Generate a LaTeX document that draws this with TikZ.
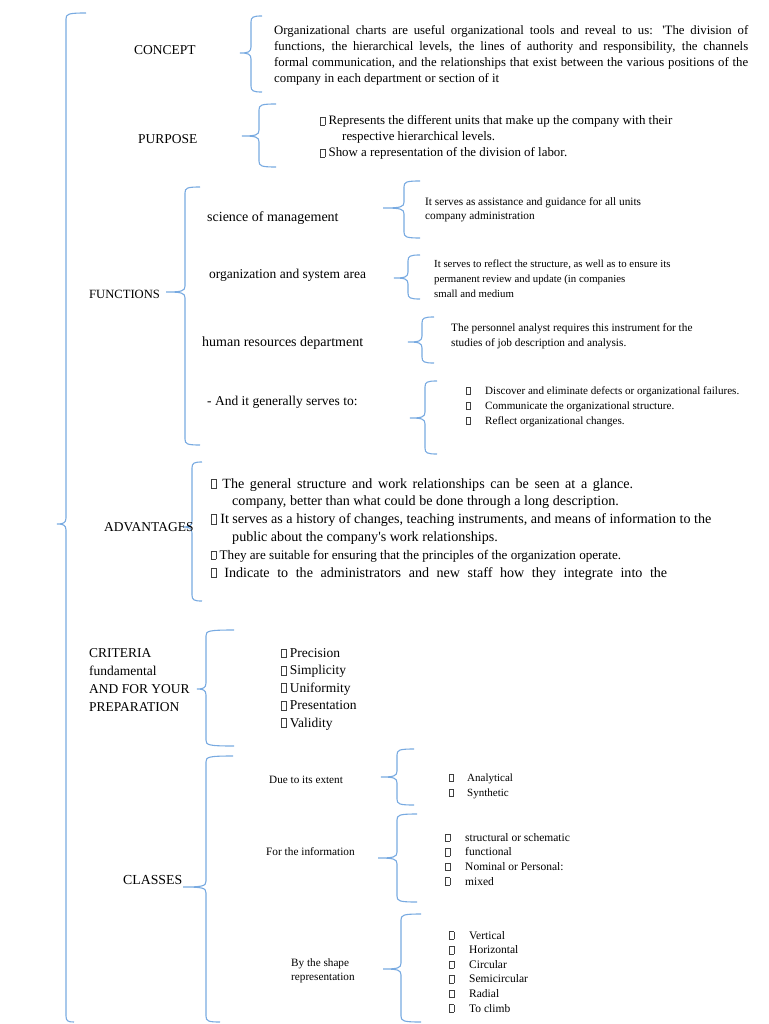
\documentclass[tikz,border=0pt]{standalone}
\usepackage{fontspec}
\setmainfont{Liberation Serif}
\definecolor{bl}{RGB}{120,170,225}
\newcommand\bx{{\fboxsep=0pt\fboxrule=0.4pt\color{black!75}\fbox{\rule{0pt}{0.62em}\hspace{0.34em}}}}
\newcommand\fs[2]{\fontsize{#1}{#2}\selectfont}
% x, ytop, ybot, ytip, xtip, xend-top, xend-bottom
\newcommand\wbrace[7]{\draw[brc] (#6,#2) .. controls ({#1+2},#2) and (#1,{#2+1}) .. (#1,{#2+6}) -- (#1,{#4-6}) .. controls (#1,{#4-1}) and ({#1-3},#4) .. (#5,#4) .. controls ({#1-3},#4) and (#1,{#4+1}) .. (#1,{#4+6}) -- (#1,{#3-6}) .. controls (#1,{#3-1}) and ({#1+2},#3) .. (#7,#3);}
\begin{document}
\begin{tikzpicture}[x=1pt,y=-1pt,
  brc/.style={draw=bl,line width=1.1pt},
  tx/.style={inner sep=0pt,anchor=base west,align=left},
  ttl/.style={inner sep=0pt,anchor=base west,font=\fs{13.5}{16}}]
\useasboundingbox (0,0) rectangle (768,1024);
% braces
\wbrace{66}{13}{1022}{524}{57}{86}{74}
\wbrace{251}{16}{92}{53}{240}{262}{262}
\wbrace{259}{104}{167}{136}{242}{276}{276}
\wbrace{185}{187}{445}{292}{166}{200}{200}
\wbrace{404}{181}{238}{208}{383}{420}{420}
\wbrace{408}{255}{299}{278}{394}{420}{420}
\wbrace{422}{317}{363}{342}{408}{434}{434}
\wbrace{425}{381}{454}{418}{410}{437}{437}
\wbrace{192}{462}{601}{527}{183}{202}{202}
\wbrace{206}{630}{746}{689}{197}{234}{234}
\wbrace{206}{756}{1022}{887}{183}{233}{220}
\wbrace{397}{749}{805}{777}{381}{414}{414}
\wbrace{397}{814}{902}{858}{378}{417}{417}
\wbrace{401}{914}{1022}{969}{383}{421}{421}
% titles (multi-line nodes are placed by the baseline of their last line)
\node[ttl] (concept) at (134,55) {CONCEPT};
\node[ttl] (purpose) at (138,144) {PURPOSE};
\node[ttl,font=\fs{12.6}{16}] (functions) at (89,298) {FUNCTIONS};
\node[ttl] (advantages) at (104,531) {ADVANTAGES};
\node[tx,font=\fs{13.5}{17.7}] (criteria) at (89,711) {CRITERIA\\fundamental\\AND FOR YOUR\\PREPARATION};
\node[ttl,font=\fs{13.8}{16}] (classes) at (123,884) {CLASSES};
% concept
\node[tx,font=\fs{12.8}{16}] (cptxt) at (274,83) {\makebox[474pt][s]{Organizational charts are useful organizational tools and reveal to us: \textquotesingle The division of}\\
\makebox[474pt][s]{functions, the hierarchical levels, the lines of authority and responsibility, the channels}\\
\makebox[474pt][s]{formal communication, and the relationships that exist between the various positions of the}\\
company in each department or section of it};
% purpose
\node[tx,font=\fs{12.9}{16}] (putxt) at (320,157) {\bx\ Represents the different units that make up the company with their\\
\hspace*{22pt}respective hierarchical levels.\\
\bx\ Show a representation of the division of labor.};
% functions
\node[tx,font=\fs{14}{16}] (sci) at (207,222) {science of management};
\node[tx,font=\fs{11.3}{14}] (scitxt) at (425,220) {It serves as assistance and guidance for all units\\company administration};
\node[tx,font=\fs{13.5}{16}] (org) at (209,278) {organization and system area};
\node[tx,font=\fs{10.8}{15}] (orgtxt) at (434,297) {It serves to reflect the structure, as well as to ensure its\\permanent review and update (in companies\\small and medium};
\node[tx,font=\fs{14}{16}] (hr) at (202,346) {human resources department};
\node[tx,font=\fs{11.3}{15}] (hrtxt) at (451,346) {The personnel analyst requires this instrument for the\\studies of job description and analysis.};
\node[tx,font=\fs{13.5}{16}] (gen) at (207,405) {- And it generally serves to:};
\node[tx,font=\fs{11.1}{15}] (gentxt) at (466,424) {\makebox[19pt][l]{\bx}Discover and eliminate defects or organizational failures.\\
\makebox[19pt][l]{\bx}Communicate the organizational structure.\\
\makebox[19pt][l]{\bx}Reflect organizational changes.};
% advantages
\node[tx,font=\fs{14.1}{17.8}] (advtxt) at (211,577) {\makebox[422pt][s]{\bx\ The general structure and work relationships can be seen at a glance.}\\
\hspace*{21pt}company, better than what could be done through a long description.\\
\bx\ It serves as a history of changes, teaching instruments, and means of information to the\\
\hspace*{21pt}public about the company\textquotesingle s work relationships.\\
{\fs{13.1}{17.8}\bx\ They are suitable for ensuring that the principles of the organization operate.}\\
\makebox[456pt][s]{\bx\ Indicate to the administrators and new staff how they integrate into the}};
% criteria
\node[tx,font=\fs{13.5}{17.4}] (crittxt) at (281,727) {\bx\ Precision\\\bx\ Simplicity\\\bx\ Uniformity\\\bx\ Presentation\\\bx\ Validity};
% classes
\node[tx,font=\fs{11.2}{14}] (ext) at (269,783) {Due to its extent};
\node[tx,font=\fs{11}{15}] (exttxt) at (449,796) {\makebox[18pt][l]{\bx}Analytical\\\makebox[18pt][l]{\bx}Synthetic};
\node[tx,font=\fs{11.3}{14}] (info) at (266,855) {For the information};
\node[tx,font=\fs{11.5}{14.6}] (infotxt) at (445,885) {\makebox[20pt][l]{\bx}structural or schematic\\\makebox[20pt][l]{\bx}functional\\\makebox[20pt][l]{\bx}Nominal or Personal:\\\makebox[20pt][l]{\bx}mixed};
\node[tx,font=\fs{11.2}{14}] (shape) at (291,980) {By the shape\\representation};
\node[tx,font=\fs{11.5}{14.6}] (shapetxt) at (449,1012) {\makebox[20pt][l]{\bx}Vertical\\\makebox[20pt][l]{\bx}Horizontal\\\makebox[20pt][l]{\bx}Circular\\\makebox[20pt][l]{\bx}Semicircular\\\makebox[20pt][l]{\bx}Radial\\\makebox[20pt][l]{\bx}To climb};
\end{tikzpicture}
\end{document}
